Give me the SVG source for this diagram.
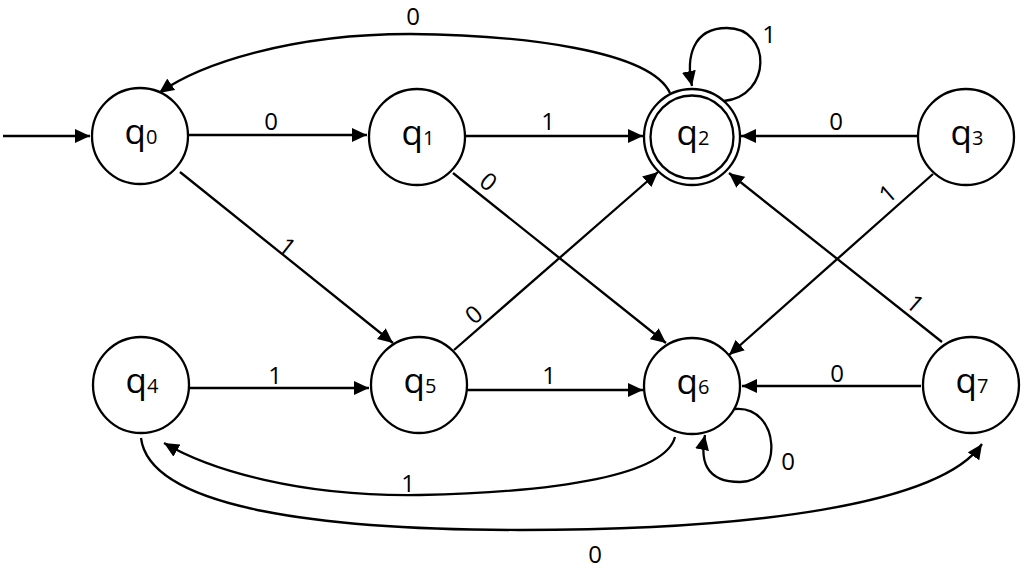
<svg xmlns="http://www.w3.org/2000/svg" width="1024" height="569" viewBox="0 0 1024 569">
<style>
.n{fill:#fff;stroke:#000;stroke-width:2.3}
.e{fill:none;stroke:#000;stroke-width:2.3;marker-end:url(#arr)}
text{font-family:"Open Sans","Noto Sans",sans-serif;fill:#000}
.lab{font-size:35px;text-anchor:middle}
.s{font-size:20px}
.el{font-size:24px;text-anchor:middle}
</style>
<defs>
<marker id="arr" markerWidth="16" markerHeight="14" refX="15" refY="7" orient="auto" markerUnits="userSpaceOnUse">
<path d="M0,0 L15,7 L0,14 z" fill="#000"/>
</marker>
</defs>
<rect width="1024" height="569" fill="#fff"/>
<g id="connectors">
<path class="e" d="M3,136 L90,136"/>
<path class="e" d="M188,135 L367,135"/>
<path class="e" d="M466,136 L643,136"/>
<path class="e" d="M918,136 L741,136"/>
<path class="e" d="M189,388 L369,388"/>
<path class="e" d="M467,390 L643,390"/>
<path class="e" d="M921,386 L742,386"/>
<path class="e" d="M180,172 L393,343"/>
<path class="e" d="M453,173 L666,343"/>
<path class="e" d="M454,350 L658,172"/>
<path class="e" d="M933,174 L729,355"/>
<path class="e" d="M942,342 L729,173"/>
<path class="e" d="M670,93 C650,50 520,35 410,34 C290,34 200,64 159,93"/>
<path class="e" d="M724,101 C772,96 772,28 727,28 C692,28 686,58 692,86"/>
<path class="e" d="M735,409 C780,405 785,482 740,482 C705,482 700,460 705,435"/>
<path class="e" d="M675,437 C665,475 560,492 420,495 C300,497 210,470 164,443"/>
<path class="e" d="M141,438 C150,510 330,530 520,530 C750,530 940,505 982,444"/>
<text class="el" x="413" y="25">0</text>
<text class="el" x="271" y="130">0</text>
<text class="el" x="548" y="130">1</text>
<text class="el" x="769" y="43">1</text>
<text class="el" x="836" y="130">0</text>
<text class="el" x="275" y="384">1</text>
<text class="el" x="549" y="384">1</text>
<text class="el" x="837" y="382">0</text>
<text class="el" x="788" y="470">0</text>
<text class="el" x="408" y="492">1</text>
<text class="el" x="595" y="563">0</text>
<text class="el" transform="translate(287,247) rotate(38)" y="8">1</text>
<text class="el" transform="translate(488,182) rotate(39)" y="8">0</text>
<text class="el" transform="translate(888,194) rotate(-41)" y="8">1</text>
<text class="el" transform="translate(474,315) rotate(-40)" y="8">0</text>
<text class="el" transform="translate(915,304) rotate(41)" y="8">1</text>
</g>
<g id="q0"><circle class="n" cx="140" cy="136" r="48"/><text class="lab" x="141" y="144">q<tspan class="s">0</tspan></text></g>
<g id="q1"><circle class="n" cx="417" cy="137" r="48"/><text class="lab" x="418" y="145">q<tspan class="s">1</tspan></text></g>
<g id="q2"><circle class="n" cx="692" cy="137" r="48"/><circle class="n" cx="692" cy="137" r="41.5"/><text class="lab" x="693" y="145">q<tspan class="s">2</tspan></text></g>
<g id="q3"><circle class="n" cx="966" cy="137" r="48"/><text class="lab" x="967" y="145">q<tspan class="s">3</tspan></text></g>
<g id="q4"><circle class="n" cx="141" cy="385" r="48"/><text class="lab" x="142" y="393">q<tspan class="s">4</tspan></text></g>
<g id="q5"><circle class="n" cx="419" cy="385" r="48"/><text class="lab" x="420" y="393">q<tspan class="s">5</tspan></text></g>
<g id="q6"><circle class="n" cx="692" cy="386" r="48"/><text class="lab" x="693" y="394">q<tspan class="s">6</tspan></text></g>
<g id="q7"><circle class="n" cx="971" cy="385" r="48"/><text class="lab" x="972" y="393">q<tspan class="s">7</tspan></text></g>
</svg>
